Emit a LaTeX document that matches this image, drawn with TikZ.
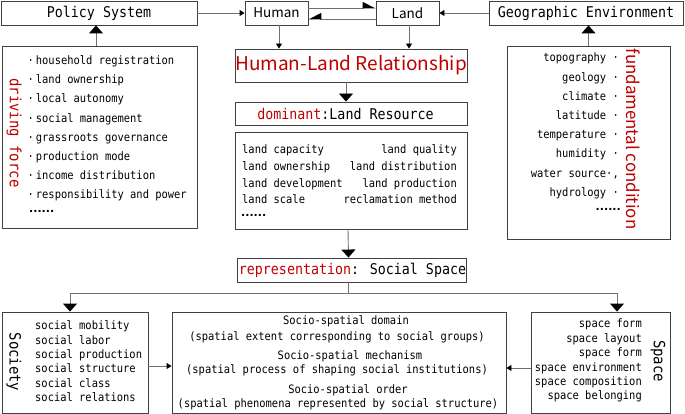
\documentclass[tikz,border=0pt]{standalone}
\usepackage{fontspec}
\newfontfamily\mono[FakeStretch=0.9]{DejaVu Sans Mono}
\newfontfamily\prop{Noto Sans CJK SC}
\newfontfamily\dotfont{DejaVu Sans Bold}
\usetikzlibrary{arrows.meta}
\definecolor{dred}{HTML}{C00000}
\definecolor{boxc}{HTML}{404040}
\definecolor{linec}{HTML}{707070}
\begin{document}
\begin{tikzpicture}[x=1pt,y=-1pt,
  box/.style={draw=boxc, line width=0.9pt, inner sep=0pt, rectangle},
  big/.style={draw=linec, line width=0.9pt, -{Triangle[width=14pt,length=8pt,color=black]}},
  small/.style={draw=linec, line width=0.9pt, -{Triangle[width=6pt,length=5pt,color=black]}},
  harpL/.style={draw=linec, line width=0.9pt, -{Triangle[width=12pt,length=12pt,left,color=black]}},
  harpR/.style={draw=linec, line width=0.9pt, -{Triangle[width=12pt,length=12pt,right,color=black]}},
  itm/.style={inner sep=0pt, font=\mono\fontsize{11.6}{13}\selectfont, text height=8.3pt, text depth=2.4pt},
  ttl/.style={font=\mono\fontsize{14.8}{16}\selectfont},
  dots/.style={inner sep=0pt, font=\dotfont\fontsize{11}{12}\selectfont},
  vert/.style={inner sep=0pt, rotate=-90},
]
\useasboundingbox (0,0) rectangle (685,414);

% top row
\node[box, minimum width=196pt, minimum height=24pt, ttl] (policy) at (99,13) {Policy System};
\node[box, minimum width=63pt, minimum height=24pt, font=\prop\fontsize{13.5}{15}\selectfont] (human) at (276.5,13) {Human};
\node[box, minimum width=63pt, minimum height=24pt, font=\prop\fontsize{13.5}{15}\selectfont] (land) at (407.5,13) {Land};
\node[box, minimum width=194pt, minimum height=24pt, ttl] (geo) at (586,13) {Geographic Environment};

% driving force box
\node[box, minimum width=195pt, minimum height=182pt] (drive) at (99.5,137) {};
\node[vert, text=dred, font=\mono\fontsize{15.5}{17}\selectfont] (drivelab) at (14,133) {driving force};
\foreach \t [count=\i] in {household registration, land ownership, local autonomy, social management, grassroots governance, production mode, income distribution, responsibility and power}
  \node[itm, anchor=west] (d\i) at (27.5, {61.5+19.2*(\i-1)}) {·\,\t};
\node[dots, anchor=west] (ddots) at (29,211) {......};

% fundamental condition box
\node[box, minimum width=163pt, minimum height=193pt] (fund) at (588.5,142.5) {};
\node[vert, text=dred, font=\prop\fontsize{16.9}{18}\selectfont] (fundlab) at (633,139) {fundamental condition};
\foreach \t [count=\i] in {topography, geology, climate, latitude, temperature, humidity}
  \node[itm, anchor=east] (f\i) at (619, {59+19.2*(\i-1)}) {\t\ ·};
\node[itm, anchor=east] (f7) at (619, {59+19.2*6}) {water source·,};
\node[itm, anchor=east] (f8) at (619, {59+19.2*7}) {hydrology\ ·};
\node[dots, anchor=east] (fdots) at (621,209) {......};

% center column
\node[box, minimum width=232pt, minimum height=33pt, text=dred, font=\prop\fontsize{19}{21}\selectfont] (hlr) at (351,65.5) {Human-Land Relationship};
\node[box, minimum width=232pt, minimum height=23pt] (dom) at (351,113.5) {};
\node[ttl, inner sep=0pt] (domtxt) at (345.5,113.5) {\textcolor{dred}{dominant}:Land Resource};
\node[box, minimum width=232pt, minimum height=97pt] (lres) at (351,180.5) {};
\foreach \t/\u [count=\i] in {land capacity/land quality, land ownership/land distribution, land development/land production, land scale/reclamation method}{
  \node[itm, anchor=west] (la\i) at (242, {151+16.6*(\i-1)}) {\t};
  \node[itm, anchor=east] (lb\i) at (457, {151+16.6*(\i-1)}) {\u};
}
\node[dots, anchor=west] (ldots) at (241,215) {......};

\node[box, minimum width=229pt, minimum height=24pt] (repr) at (351.5,270) {};
\node[ttl, inner sep=0pt] (reprtxt) at (352.5,270) {\textcolor{dred}{representation}: Social Space};

% bottom row
\node[box, minimum width=146pt, minimum height=101pt] (soc) at (75,362.5) {};
\node[vert, font=\mono\fontsize{15.5}{17}\selectfont] (soclab) at (14,362) {Society};
\foreach \t [count=\i] in {social mobility, social labor, social production, social structure, social class, social relations}
  \node[itm, anchor=west] (s\i) at (35, {327+14.3*(\i-1)}) {\t};

\node[box, minimum width=334pt, minimum height=101pt] (mid) at (339,362.5) {};
\node[itm] (m1) at (346,322) {Socio-spatial domain};
\node[itm] (m2) at (337,338) {(spatial extent corresponding to social groups)};
\node[itm] (m3) at (350,357) {Socio-spatial mechanism};
\node[itm] (m4) at (337,371) {(spatial process of shaping social institutions)};
\node[itm] (m5) at (348,391) {Socio-spatial order};
\node[itm] (m6) at (338,405) {(spatial phenomena represented by social structure)};

\node[box, minimum width=139pt, minimum height=101pt] (space) at (600.5,362.5) {};
\node[vert, font=\mono\fontsize{15.5}{17}\selectfont] (spacelab) at (658,361) {Space};
\foreach \t [count=\i] in {space form, space layout, space form, space environment, space composition, space belonging}
  \node[itm, anchor=east] (p\i) at (642, {325+14.4*(\i-1)}) {\t};

% connectors
\draw[small] (policy.east) -- (human.west);
\draw[small] (geo.west) -- (land.east);
\draw[harpL] ([yshift=5pt]human.east) -- ([yshift=5pt]land.west);
\draw[harpR] ([yshift=-6pt]land.west) -- ([yshift=-6pt]human.east);
\draw[big] ([xshift=-3.5pt]drive.north) -- ([xshift=-3.5pt]drive.north |- policy.south);
\draw[big] (fund.north) -- (fund.north |- geo.south);
\draw[small] ([xshift=2.5pt]human.south) -- ([xshift=2.5pt]human.south |- hlr.north);
\draw[small] ([xshift=1.5pt]land.south) -- ([xshift=1.5pt]land.south |- hlr.north);
\draw[big] ([xshift=-5pt]hlr.south) -- ([xshift=-5pt]dom.north);
\draw[big] ([xshift=-3pt]lres.south) -- ([xshift=-3pt]repr.north);
\coordinate (split) at ([xshift=-3pt,yshift=-11pt]repr.south);
\draw[linec, line width=0.9pt] ([xshift=-3pt]repr.south) -- (split);
\draw[big] (split) -| ([xshift=-5pt]soc.north);
\draw[big] (split) -| ([xshift=16.5pt]space.north);
\draw[small] ([yshift=-3.5pt]soc.east) -- ([yshift=-3.5pt]mid.west);
\draw[small] ([yshift=-5.5pt]space.west) -- ([yshift=-5.5pt]mid.east);
\end{tikzpicture}
\end{document}
